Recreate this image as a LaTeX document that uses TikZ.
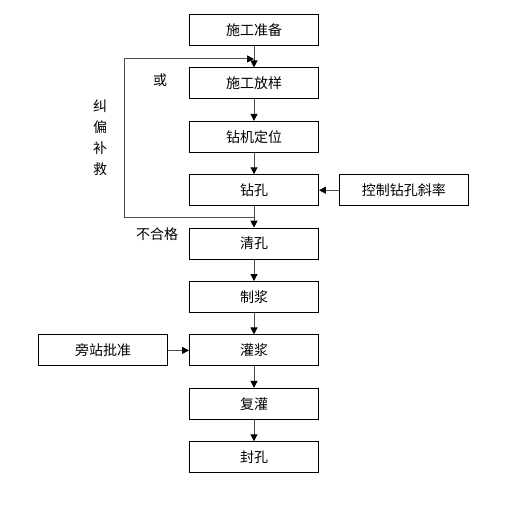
\documentclass[tikz,border=0pt]{standalone}
\usepackage{fontspec}
\setmainfont{Noto Sans CJK SC}
\usetikzlibrary{positioning,arrows.meta}

\begin{document}
\begin{tikzpicture}[x=1pt,y=-1pt,
  >={Triangle[length=7pt,width=7pt,color=black]},
  stage/.style={draw,line width=0.9pt,minimum width=129pt,minimum height=31pt,
                inner sep=0pt,font=\fontsize{14}{16}\selectfont},
  flow/.style={->,draw=black!70,line width=1pt},
  note/.style={inner sep=0pt,font=\fontsize{14}{16}\selectfont}]
  \useasboundingbox (0,0) rectangle (521,506);
  \def\gap{21.5pt}
  %  -- - main column  -- -
  \node[stage] (prep) at (254,30) {施工准备};
  \node[stage, below=\gap of prep] (layout) {施工放样};
  \node[stage, below=\gap of layout] (pos) {钻机定位};
  \node[stage, below=\gap of pos] (drill) {钻孔};
  \node[stage, below=\gap of drill] (clean) {清孔};
  \node[stage, below=\gap of clean] (mix) {制浆};
  \node[stage, below=\gap of mix] (grout) {灌浆};
  \node[stage, below=\gap of grout] (regrout) {复灌};
  \node[stage, below=\gap of regrout] (seal) {封孔};
  \draw[flow] (prep) -- (layout); \draw[flow] (layout) -- (pos);
  \draw[flow] (pos) -- (drill); \draw[flow] (drill) -- (clean);
  \draw[flow] (clean) -- (mix); \draw[flow] (mix) -- (grout);
  \draw[flow] (grout) -- (regrout); \draw[flow] (regrout) -- (seal);
  %  -- - side inputs  -- -
  \node[stage, right=20pt of drill] (slope) {控制钻孔斜率};
  \draw[flow] (slope) -- (drill);
  \node[stage, left=21pt of grout] (super) {旁站批准};
  \draw[flow] (super) -- (grout);
  %  -- - rework loop  -- -
  \coordinate (fork) at ([yshift=-11pt]drill.south);
  \coordinate (join) at ([yshift=-13pt]prep.south);
  \draw[flow] (fork) -- ++(-130,0) |- (join);
  \node[note] (or) at (160,80) {或};
  \node[note] (fail) at (157,234) {不合格};
  \node[note, align=center, text width=15pt] (fix) at (100,138)
    {纠\\[5pt]偏\\[5pt]补\\[5pt]救};
\end{tikzpicture}
\end{document}
